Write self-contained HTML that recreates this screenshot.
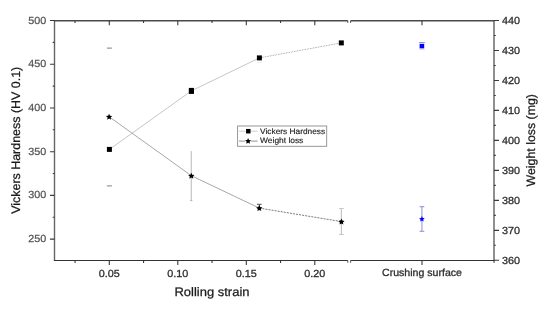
<!DOCTYPE html>
<html><head><meta charset="utf-8"><title>Vickers Hardness and Weight loss vs Rolling strain</title>
<style>html,body{margin:0;padding:0;background:#fff;}body{width:550px;height:309px;overflow:hidden;}svg{display:block;}</style>
</head><body>
<svg width="550" height="309" viewBox="0 0 550 309" text-rendering="geometricPrecision"><path d="M54.5 260.5V20.7" stroke="#666" stroke-width="1.4" fill="none"/><path d="M494.0 262.7V20.7" stroke="#6a6a6a" stroke-width="1.5" fill="none"/><path d="M53.9 20.7H347.8M350.6 20.7H494.6" stroke="#4a4a4a" stroke-width="1.5" fill="none"/><path d="M53.9 260.5H347.8M350.6 260.5H494.6" stroke="#333" stroke-width="1.2" fill="none"/><path d="M347.8 20.7v2.2M350.6 20.7v2.2" stroke="#3a3a3a" stroke-width="0.9" fill="none"/><path d="M347.8 260.5v2.2M350.6 260.5v2.2" stroke="#3a3a3a" stroke-width="0.9" fill="none"/><path d="M54.5 239.12h-4.5M54.5 195.40h-4.5M54.5 151.68h-4.5M54.5 107.95h-4.5M54.5 64.22h-4.5M54.5 20.50h-4.5M54.5 217.26h-1.8M54.5 173.54h-1.8M54.5 129.81h-1.8M54.5 86.09h-1.8M54.5 42.36h-1.8M494.0 260.30h5M494.0 230.33h5M494.0 200.35h5M494.0 170.38h5M494.0 140.40h5M494.0 110.42h5M494.0 80.45h5M494.0 50.48h5M494.0 20.50h5M494.0 245.31h1.8M494.0 215.34h1.8M494.0 185.36h1.8M494.0 155.39h1.8M494.0 125.41h1.8M494.0 95.44h1.8M494.0 65.46h1.8M494.0 35.49h1.8M109.30 260.5v4.6M109.30 20.7v4.6M177.80 260.5v4.6M177.80 20.7v4.6M246.30 260.5v4.6M246.30 20.7v4.6M314.80 260.5v4.6M314.80 20.7v4.6M422.00 260.5v4.6M422.00 20.7v4.6M75.05 260.5v2.4M75.05 20.7v2.4M143.55 260.5v2.4M143.55 20.7v2.4M212.05 260.5v2.4M212.05 20.7v2.4M280.55 260.5v2.4M280.55 20.7v2.4" stroke="#3a3a3a" stroke-width="1.1" fill="none"/><g font-family="Liberation Sans, Arial, sans-serif" font-size="10.3" fill="#555" stroke="#555" stroke-width="0.25"><text transform="translate(46.30 242.18) scale(1.05 1)" text-anchor="end">250</text><text transform="translate(46.30 198.45) scale(1.05 1)" text-anchor="end">300</text><text transform="translate(46.30 154.73) scale(1.05 1)" text-anchor="end">350</text><text transform="translate(46.30 111.00) scale(1.05 1)" text-anchor="end">400</text><text transform="translate(46.30 67.27) scale(1.05 1)" text-anchor="end">450</text><text transform="translate(46.30 23.55) scale(1.05 1)" text-anchor="end">500</text></g><g font-family="Liberation Sans, Arial, sans-serif" font-size="10.3" fill="#2e2e2e" stroke="#2e2e2e" stroke-width="0.3"><text transform="translate(502.00 263.60) scale(1.05 1)">360</text><text transform="translate(502.00 233.63) scale(1.05 1)">370</text><text transform="translate(502.00 203.65) scale(1.05 1)">380</text><text transform="translate(502.00 173.68) scale(1.05 1)">390</text><text transform="translate(502.00 143.70) scale(1.05 1)">400</text><text transform="translate(502.00 113.72) scale(1.05 1)">410</text><text transform="translate(502.00 83.75) scale(1.05 1)">420</text><text transform="translate(502.00 53.77) scale(1.05 1)">430</text><text transform="translate(502.00 23.80) scale(1.05 1)">440</text><text transform="translate(109.30 276.60) scale(1.05 1)" text-anchor="middle">0.05</text><text transform="translate(177.80 276.60) scale(1.05 1)" text-anchor="middle">0.10</text><text transform="translate(246.30 276.60) scale(1.05 1)" text-anchor="middle">0.15</text><text transform="translate(314.80 276.60) scale(1.05 1)" text-anchor="middle">0.20</text><text x="422" y="276.0" text-anchor="middle" textLength="80" lengthAdjust="spacingAndGlyphs">Crushing surface</text></g><g font-family="Liberation Sans, Arial, sans-serif" font-size="12.3" fill="#1a1a1a" stroke="#1a1a1a" stroke-width="0.25"><text x="212" y="295.9" text-anchor="middle" textLength="75" lengthAdjust="spacingAndGlyphs">Rolling strain</text><text transform="translate(19.8 140.3) rotate(-90)" text-anchor="middle" textLength="147" lengthAdjust="spacingAndGlyphs">Vickers Hardness (HV 0.1)</text><text transform="translate(535.2 140.3) rotate(-90)" text-anchor="middle" textLength="92.5" lengthAdjust="spacingAndGlyphs">Weight loss (mg)</text></g><path d="M109.4 149.4L191.4 90.9M191.4 90.9L259.4 57.9" stroke="#c6c6c6" stroke-width="1" fill="none"/><path d="M109.1 116.7L191.3 175.7M191.3 175.7L259.3 208.1" stroke="#a8a8a8" stroke-width="1" fill="none"/><path d="M259.4 57.9L341.3 42.9" stroke="#b0b0b0" stroke-width="1" stroke-dasharray="1.6 1.1" fill="none"/><path d="M259.3 208.1L341.4 221.6" stroke="#7a7a7a" stroke-width="1" stroke-dasharray="2 1.1" fill="none"/><path d="M106.9 48.1h5M106.9 185.9h5" stroke="#999" stroke-width="1.2" fill="none"/><path d="M191.3 151V200.6" stroke="#c4c4c4" stroke-width="1.2" fill="none"/><path d="M190.3 200.6h2" stroke="#aaa" stroke-width="1.0" fill="none"/><path d="M256.9 204.3h4.8M259.3 204.3V208" stroke="#555" stroke-width="1.0" fill="none"/><path d="M341.4 208.5V234.5" stroke="#c4c4c4" stroke-width="1.2" fill="none"/><path d="M339 208.5h4.8M339 234.5h4.8" stroke="#c8c8c8" stroke-width="1.1" fill="none"/><path d="M256.9 62.4h5" stroke="#ececec" stroke-width="1.0" fill="none"/><path d="M419 42.5h5.8" stroke="#9a9ad0" stroke-width="1.0" fill="none"/><path d="M419.3 49.6h5.2" stroke="#d8d8f0" stroke-width="1.0" fill="none"/><path d="M421.9 206.8V231.3" stroke="#a8a8e0" stroke-width="1.3" fill="none"/><path d="M419.5 206.8h4.8M419.5 231.3h4.8" stroke="#8a8ad8" stroke-width="1.1" fill="none"/><rect x="106.90" y="146.90" width="5" height="5" fill="#000"/><rect x="188.90" y="88.40" width="5" height="5" fill="#000"/><rect x="256.90" y="55.40" width="5" height="5" fill="#000"/><rect x="338.80" y="40.40" width="5" height="5" fill="#000"/><rect x="188.9" y="87.9" width="5" height="6" fill="#000"/><rect x="419.60" y="43.80" width="4.6" height="4.6" fill="#0000ff"/><polygon points="109.10,113.70 110.03,115.72 112.24,115.98 110.61,117.49 111.04,119.67 109.10,118.58 107.16,119.67 107.59,117.49 105.96,115.98 108.17,115.72" fill="#000"/><polygon points="191.30,172.70 192.23,174.72 194.44,174.98 192.81,176.49 193.24,178.67 191.30,177.58 189.36,178.67 189.79,176.49 188.16,174.98 190.37,174.72" fill="#000"/><polygon points="259.30,205.10 260.23,207.12 262.44,207.38 260.81,208.89 261.24,211.07 259.30,209.98 257.36,211.07 257.79,208.89 256.16,207.38 258.37,207.12" fill="#000"/><polygon points="341.40,218.60 342.33,220.62 344.54,220.88 342.91,222.39 343.34,224.57 341.40,223.48 339.46,224.57 339.89,222.39 338.26,220.88 340.47,220.62" fill="#000"/><polygon points="421.90,216.10 422.75,217.94 424.75,218.17 423.27,219.54 423.66,221.53 421.90,220.54 420.14,221.53 420.53,219.54 419.05,218.17 421.05,217.94" fill="#0000ff"/><rect x="237.6" y="126.0" width="89.1" height="20.3" fill="#fff" stroke="#8c8c8c" stroke-width="0.9"/><path d="M239 131.2H245.5M251 131.2H257.6" stroke="#d0d0d0" stroke-width="1"/><path d="M239 141.1H245M251 141.1H257.6" stroke="#a8a8a8" stroke-width="1.1"/><rect x="246.05" y="128.95" width="4.5" height="4.5" fill="#000"/><polygon points="248.10,138.00 249.00,139.96 251.14,140.21 249.56,141.67 249.98,143.79 248.10,142.74 246.22,143.79 246.64,141.67 245.06,140.21 247.20,139.96" fill="#000"/><g font-family="Liberation Sans, Arial, sans-serif" font-size="8" fill="#222" stroke="#222" stroke-width="0.15"><text x="260.1" y="133.7" textLength="65" lengthAdjust="spacingAndGlyphs">Vickers Hardness</text><text x="260.1" y="143.2" textLength="43.2" lengthAdjust="spacingAndGlyphs">Weight loss</text></g></svg>
</body></html>
